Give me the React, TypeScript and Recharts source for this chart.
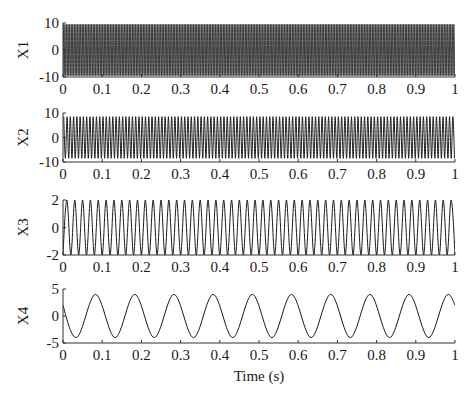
import { LineChart, Line, XAxis, YAxis, Label } from 'recharts'

// time axis (s)
const timeTicks = [0, 0.1, 0.2, 0.3, 0.4, 0.5, 0.6, 0.7, 0.8, 0.9, 1]
const timeTickLabels = ['0', '0.1', '0.2', '0.3', '0.4', '0.5', '0.6', '0.7', '0.8', '0.9', '1']

const channelNames = ['X1', 'X2', 'X3', 'X4']
const channelYTicks = [[-10, 0, 10], [-10, 0, 10], [-2, 0, 2], [-5, 0, 5]]
const channelInk = ['#3a3a3a', '#1a1a1a', '#1a1a1a', '#1a1a1a']

// dense channels, read off the picture as extrema: first extremum time,
// spacing between successive extrema, peak height, sign of first extremum
const denseFirstT = [0.001, 0.002, 0]
const denseSpacing = [0.002, 0.00417, 0.01]
const denseAmp = [9.5, 8.5, 2]
const denseFirstSign = [1, 1, -1]

// X4 extrema (slow channel)
const x4Time = [0, 0.033, 0.083, 0.133, 0.183, 0.233, 0.283, 0.333, 0.383, 0.433, 0.483,
  0.533, 0.583, 0.633, 0.683, 0.733, 0.783, 0.833, 0.883, 0.933, 0.983, 1]
const x4Value = [2, -4, 4, -4, 4, -4, 4, -4, 4, -4, 4, -4, 4, -4, 4, -4, 4, -4, 4, -4, 4, 2]

type Pt = { t: number; v: number }

function extremaPoints(i: number): Pt[] {
  const pts: Pt[] = []
  let s = denseFirstSign[i]
  for (let k = 0; ; k++) {
    const t = denseFirstT[i] + k * denseSpacing[i]
    if (t > 1.0000001) break
    pts.push({ t, v: s * denseAmp[i] })
    s = -s
  }
  return pts
}

const seriesData: Pt[][] = [
  extremaPoints(0),
  extremaPoints(1),
  extremaPoints(2),
  x4Time.map((t, i) => ({ t, v: x4Value[i] })),
]

const FONT = '"Liberation Serif", "DejaVu Serif", serif'
const AXIS = '#333'
const INK = '#1a1a1a'
const W = 474

// chart boxes: top of container, container height, plot top margin, plot height
const panels = [
  { top: 0, h: 100, mt: 23, ph: 54 },
  { top: 95, h: 100, mt: 18, ph: 49 },
  { top: 185, h: 100, mt: 15, ph: 55 },
  { top: 275, h: 125, mt: 14, ph: 54 },
]

const fmtTime = (v: number) => {
  const i = timeTicks.findIndex((t) => Math.abs(t - v) < 1e-9)
  return i >= 0 ? timeTickLabels[i] : String(v)
}

const BottomTick = (p: any) => (
  <g>
    <line x1={p.x} x2={p.x} y1={p.y - 6} y2={p.y - 9} stroke={AXIS} />
    <text x={p.x} y={p.y} dy="0.71em" textAnchor="middle" fontSize={15} fontFamily={FONT} fill={INK}>
      {fmtTime(p.payload.value)}
    </text>
  </g>
)
const TopTick = (p: any) => <line x1={p.x} x2={p.x} y1={p.y} y2={p.y + 3} stroke={AXIS} />
const LeftTick = (p: any) => (
  <g>
    <line x1={p.x + 4} x2={p.x + 7} y1={p.y} y2={p.y} stroke={AXIS} />
    <text x={p.x} y={p.y} dy="0.35em" textAnchor="end" fontSize={15} fontFamily={FONT} fill={INK}>
      {p.payload.value}
    </text>
  </g>
)
const RightTick = (p: any) => <line x1={p.x} x2={p.x - 3} y1={p.y} y2={p.y} stroke={AXIS} />

function Panel({ idx }: { idx: number }) {
  const pn = panels[idx]
  const ticks = channelYTicks[idx]
  const last = idx === panels.length - 1
  return (
    <div style={{ position: 'absolute', left: 0, top: pn.top }}>
      <LineChart
        width={W}
        height={pn.h}
        data={seriesData[idx]}
        margin={{ top: pn.mt, right: 19, bottom: 0, left: 0 }}
      >
        <XAxis
          xAxisId="b"
          dataKey="t"
          type="number"
          domain={[0, 1]}
          ticks={timeTicks}
          interval={0}
          allowDataOverflow
          height={pn.h - pn.mt - pn.ph}
          tickSize={0}
          tickMargin={6}
          tickLine={false}
          axisLine={{ stroke: AXIS }}
          tick={BottomTick}
        >
          {last && (
            <Label
              content={(p: any) => {
                const vb = p.viewBox
                return (
                  <text x={vb.x + vb.width / 2} y={vb.y + 33} dy="0.35em" textAnchor="middle"
                    fontSize={15} fontFamily={FONT} fill={INK}>
                    Time (s)
                  </text>
                )
              }}
            />
          )}
        </XAxis>
        <XAxis
          xAxisId="t"
          orientation="top"
          type="number"
          domain={[0, 1]}
          ticks={timeTicks}
          interval={0}
          allowDataOverflow
          height={0}
          tickSize={0}
          tickMargin={0}
          tickLine={false}
          axisLine={{ stroke: AXIS }}
          tick={TopTick}
        />
        <YAxis
          yAxisId="l"
          type="number"
          domain={[ticks[0], ticks[2]]}
          ticks={ticks}
          interval={0}
          allowDataOverflow
          width={63}
          tickSize={0}
          tickMargin={4}
          tickLine={false}
          axisLine={{ stroke: AXIS }}
          tick={LeftTick}
        >
          <Label
            content={(p: any) => {
              const vb = p.viewBox
              const cx = vb.x + 23
              const cy = vb.y + vb.height / 2
              return (
                <text x={cx} y={cy} dy="0.35em" textAnchor="middle" transform={`rotate(-90 ${cx} ${cy})`}
                  fontSize={15} fontFamily={FONT} fill={INK}>
                  {channelNames[idx]}
                </text>
              )
            }}
          />
        </YAxis>
        <YAxis
          yAxisId="r"
          orientation="right"
          type="number"
          domain={[ticks[0], ticks[2]]}
          ticks={ticks}
          interval={0}
          allowDataOverflow
          width={0}
          tickSize={0}
          tickMargin={0}
          tickLine={false}
          axisLine={{ stroke: AXIS }}
          tick={RightTick}
        />
        <Line
          xAxisId="b"
          yAxisId="l"
          dataKey="v"
          type="monotone"
          stroke={channelInk[idx]}
          strokeWidth={1}
          dot={false}
          activeDot={false}
          isAnimationActive={false}
        />
      </LineChart>
    </div>
  )
}

export default function App() {
  return (
    <div style={{ position: 'absolute', left: 0, top: 0, width: W, height: 400, background: '#fff' }}>
      {channelNames.map((_, i) => (
        <Panel key={i} idx={i} />
      ))}
    </div>
  )
}
